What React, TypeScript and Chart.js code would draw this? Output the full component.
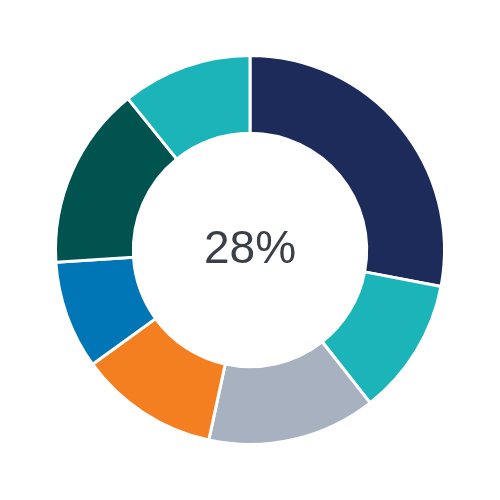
import { useEffect, useRef } from 'react';
import { Chart, registerables, type ChartConfiguration, type Plugin } from 'chart.js';

Chart.register(...registerables);

const segments = ['A', 'B', 'C', 'D', 'E', 'F', 'G'];
const shares = [28, 11.4, 14, 11.6, 9, 15.2, 10.8];
const colors = ['#1c2b5a', '#1bb5b9', '#a7b1c0', '#f47f21', '#0076b6', '#00534f', '#1bb5b9'];
const centerLabel = '28%';

const centerText: Plugin<'doughnut'> = {
    id: 'centerText',
    afterDraw(chart) {
        const { ctx, chartArea } = chart;
        const cx = (chartArea.left + chartArea.right) / 2;
        const cy = (chartArea.top + chartArea.bottom) / 2;
        ctx.save();
        ctx.font = '46px "Liberation Sans", Arial, sans-serif';
        ctx.fillStyle = '#3a3f48';
        ctx.textAlign = 'center';
        ctx.textBaseline = 'middle';
        ctx.fillText(centerLabel, cx, cy);
        ctx.restore();
    },
};

export default function App() {
    const chartRef = useRef<HTMLCanvasElement>(null);
    const chartInstance = useRef<Chart | null>(null);

    useEffect(() => {
        document.body.style.margin = '0';
        if (!chartRef.current) return;
        if (chartInstance.current) chartInstance.current.destroy();

        const config: ChartConfiguration<'doughnut'> = {
            type: 'doughnut',
            data: {
                labels: segments,
                datasets: [
                    {
                        data: shares,
                        backgroundColor: colors,
                        borderColor: '#ffffff',
                        borderWidth: 3,
                    },
                ],
            },
            options: {
                animation: false,
                responsive: false,
                cutout: '60%',
                layout: { padding: 54 },
                plugins: {
                    legend: { display: false },
                    tooltip: { enabled: false },
                },
            },
            plugins: [centerText],
        };

        chartInstance.current = new Chart(chartRef.current, config);

        return () => {
            if (chartInstance.current) {
                chartInstance.current.destroy();
                chartInstance.current = null;
            }
        };
    }, []);

    return (
        <div style={{ width: 500, height: 500, background: '#ffffff' }}>
            <canvas ref={chartRef} width={500} height={500}></canvas>
        </div>
    );
}
